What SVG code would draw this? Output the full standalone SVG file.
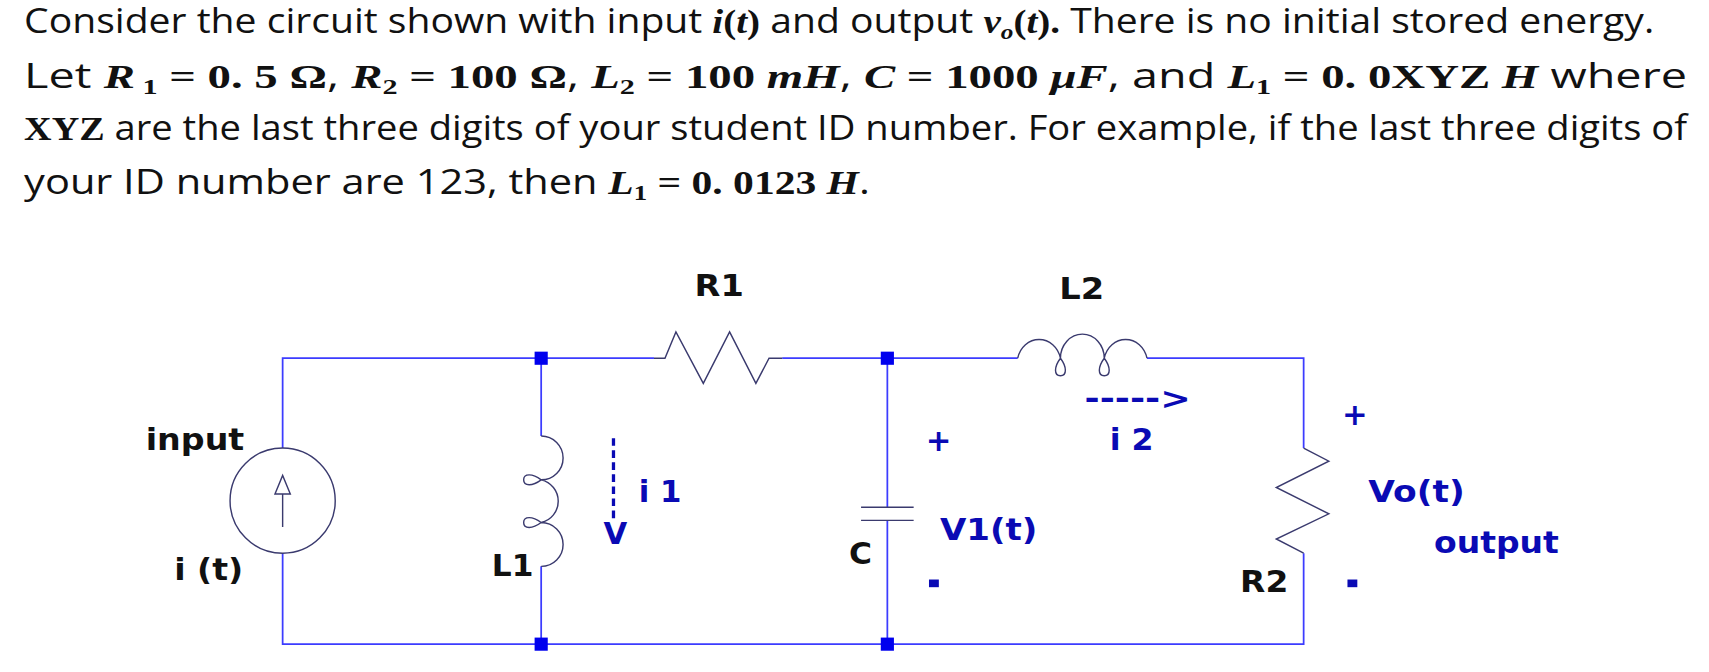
<svg xmlns="http://www.w3.org/2000/svg" width="1709" height="672" viewBox="0 0 1709 672">
<style>
.h{font-family:"Open Sans","Noto Sans",sans-serif;font-size:31px;fill:#111}
.m{font-family:"Liberation Serif",serif;font-weight:bold;font-style:italic}
.mb{font-family:"Liberation Serif",serif;font-weight:bold}
.lb{font-family:"DejaVu Sans",sans-serif;font-weight:bold;font-size:28px;fill:#111}
.bl{font-family:"DejaVu Sans",sans-serif;font-weight:bold;font-size:28px;fill:#0a0ab4}
.w{stroke:#3c3cff;stroke-width:1.6;fill:none}
.c{stroke:#3a3a6e;stroke-width:1.3;fill:none}
.n{fill:#0000ee}
</style>
<rect width="1709" height="672" fill="#fff"/>
<g transform="scale(1.0955)">
<g id="header">
<text class="h" x="22" y="30" textLength="1488" lengthAdjust="spacingAndGlyphs">Consider the circuit shown with input <tspan class="m">i</tspan><tspan class="mb">(</tspan><tspan class="m">t</tspan><tspan class="mb">)</tspan> and output <tspan class="m">v</tspan><tspan class="m" font-size="20" dy="6">o</tspan><tspan class="mb" dy="-6">(</tspan><tspan class="m">t</tspan><tspan class="mb">).</tspan> There is no initial stored energy.</text>
<text class="h" x="22" y="80" textLength="1518" lengthAdjust="spacingAndGlyphs">Let  <tspan class="m">R</tspan><tspan class="mb" font-size="20" dy="6"> 1</tspan><tspan class="mb" dy="-6"> = 0. 5 Ω</tspan>,  <tspan class="m">R</tspan><tspan class="mb" font-size="20" dy="6">2</tspan><tspan class="mb" dy="-6"> =   100 Ω</tspan>,  <tspan class="m">L</tspan><tspan class="mb" font-size="20" dy="6">2</tspan><tspan class="mb" dy="-6">  =   100 </tspan><tspan class="m">mH</tspan>,  <tspan class="m">C</tspan><tspan class="mb">  =   1000 </tspan><tspan class="m">μF</tspan>,  and  <tspan class="m">L</tspan><tspan class="mb" font-size="20" dy="6">1</tspan><tspan class="mb" dy="-6">  =   0. 0XYZ   </tspan><tspan class="m">H</tspan>  where</text>
<text class="h" x="22" y="128" textLength="1518" lengthAdjust="spacingAndGlyphs"><tspan class="mb">XYZ</tspan> are the last three digits of your student ID number.  For example, if the last three digits of</text>
<text class="h" x="22" y="177" textLength="772" lengthAdjust="spacingAndGlyphs">your ID number are 123, then <tspan class="m">L</tspan><tspan class="mb" font-size="20" dy="6">1</tspan><tspan class="mb" dy="-6">   =   0. 0123   </tspan><tspan class="m">H</tspan>.</text>
</g>
<g id="connectors">
<path class="w" d="M258,409 V327 H597 M714,327 H929 M1047,327 H1190 V409 M1190,505 V588 H258 V505"/>
<path class="w" d="M494,327 V398 M494,517 V588"/>
<path class="w" d="M810,327 V463 M810,475 V588"/>
</g>
<g id="source"><ellipse class="c" cx="258" cy="457" rx="48" ry="48"/><path class="c" d="M258,481 V451 M251,451 H265 L258,434 Z"/></g>
<g id="R1"><path class="c" d="M597,327 H607 L617,303 L642,350 L666,303 L690,350 L702,327 H714"/></g>
<g id="L1"><path class="c" d="M494,398 A20,20 0 0 1 494,438 A20,20 0 0 1 494,477 A20,20 0 0 1 494,517 M494,438 C486,432 478,432 478,438 C478,444 486,444 494,438 M494,477 C486,471 478,471 478,477 C478,483 486,483 494,477"/></g>
<g id="C"><path class="c" d="M786,463 H834 M786,475 H834"/></g>
<g id="L2"><path class="c" d="M929,327 A20,22 0 0 1 968,327 A20,22 0 0 1 1008,327 A20,22 0 0 1 1047,327 M968,327 C962,335 962,343 968,343 C974,343 974,335 968,327 M1008,327 C1002,335 1002,343 1008,343 C1014,343 1014,335 1008,327"/></g>
<g id="R2"><path class="c" d="M1190,409 L1213,421 L1165,445 L1213,469 L1165,492 L1190,505"/></g>
<g id="nodes"><rect class="n" x="488" y="321" width="12" height="12"/><rect class="n" x="804" y="321" width="12" height="12"/><rect class="n" x="488" y="582" width="12" height="12"/><rect class="n" x="804" y="582" width="12" height="12"/></g>
<g id="labels">
<text class="lb" x="634" y="270" textLength="45" lengthAdjust="spacingAndGlyphs">R1</text>
<text class="lb" x="967" y="273" textLength="41" lengthAdjust="spacingAndGlyphs">L2</text>
<text class="lb" x="133" y="411" textLength="90" lengthAdjust="spacingAndGlyphs">input</text>
<text class="lb" x="159" y="529" textLength="63" lengthAdjust="spacingAndGlyphs">i (t)</text>
<text class="lb" x="449" y="526" textLength="38" lengthAdjust="spacingAndGlyphs">L1</text>
<text class="lb" x="775" y="515" textLength="21" lengthAdjust="spacingAndGlyphs">C</text>
<text class="lb" x="1132" y="540" textLength="44" lengthAdjust="spacingAndGlyphs">R2</text>
<path d="M560,400 V473" stroke="#0a0ab4" stroke-width="3" stroke-dasharray="7,4"/>
<text class="bl" x="551" y="497" font-size="23">V</text>
<text class="bl" x="583" y="458" textLength="39" lengthAdjust="spacingAndGlyphs">i 1</text>
<text class="bl" x="990" y="373" textLength="97" lengthAdjust="spacingAndGlyphs">-----&gt;</text>
<text class="bl" x="1013" y="411" textLength="40" lengthAdjust="spacingAndGlyphs">i 2</text>
<text class="bl" x="845" y="412" font-size="32">+</text>
<text class="bl" x="858" y="493" textLength="89" lengthAdjust="spacingAndGlyphs">V1(t)</text>
<rect x="848" y="529" width="9" height="7" fill="#0a0ab4"/>
<text class="bl" x="1225" y="388" font-size="32">+</text>
<text class="bl" x="1249" y="458" textLength="88" lengthAdjust="spacingAndGlyphs">Vo(t)</text>
<text class="bl" x="1309" y="505" textLength="114" lengthAdjust="spacingAndGlyphs">output</text>
<rect x="1230" y="529" width="9" height="7" fill="#0a0ab4"/>
</g>
</g>
</svg>
